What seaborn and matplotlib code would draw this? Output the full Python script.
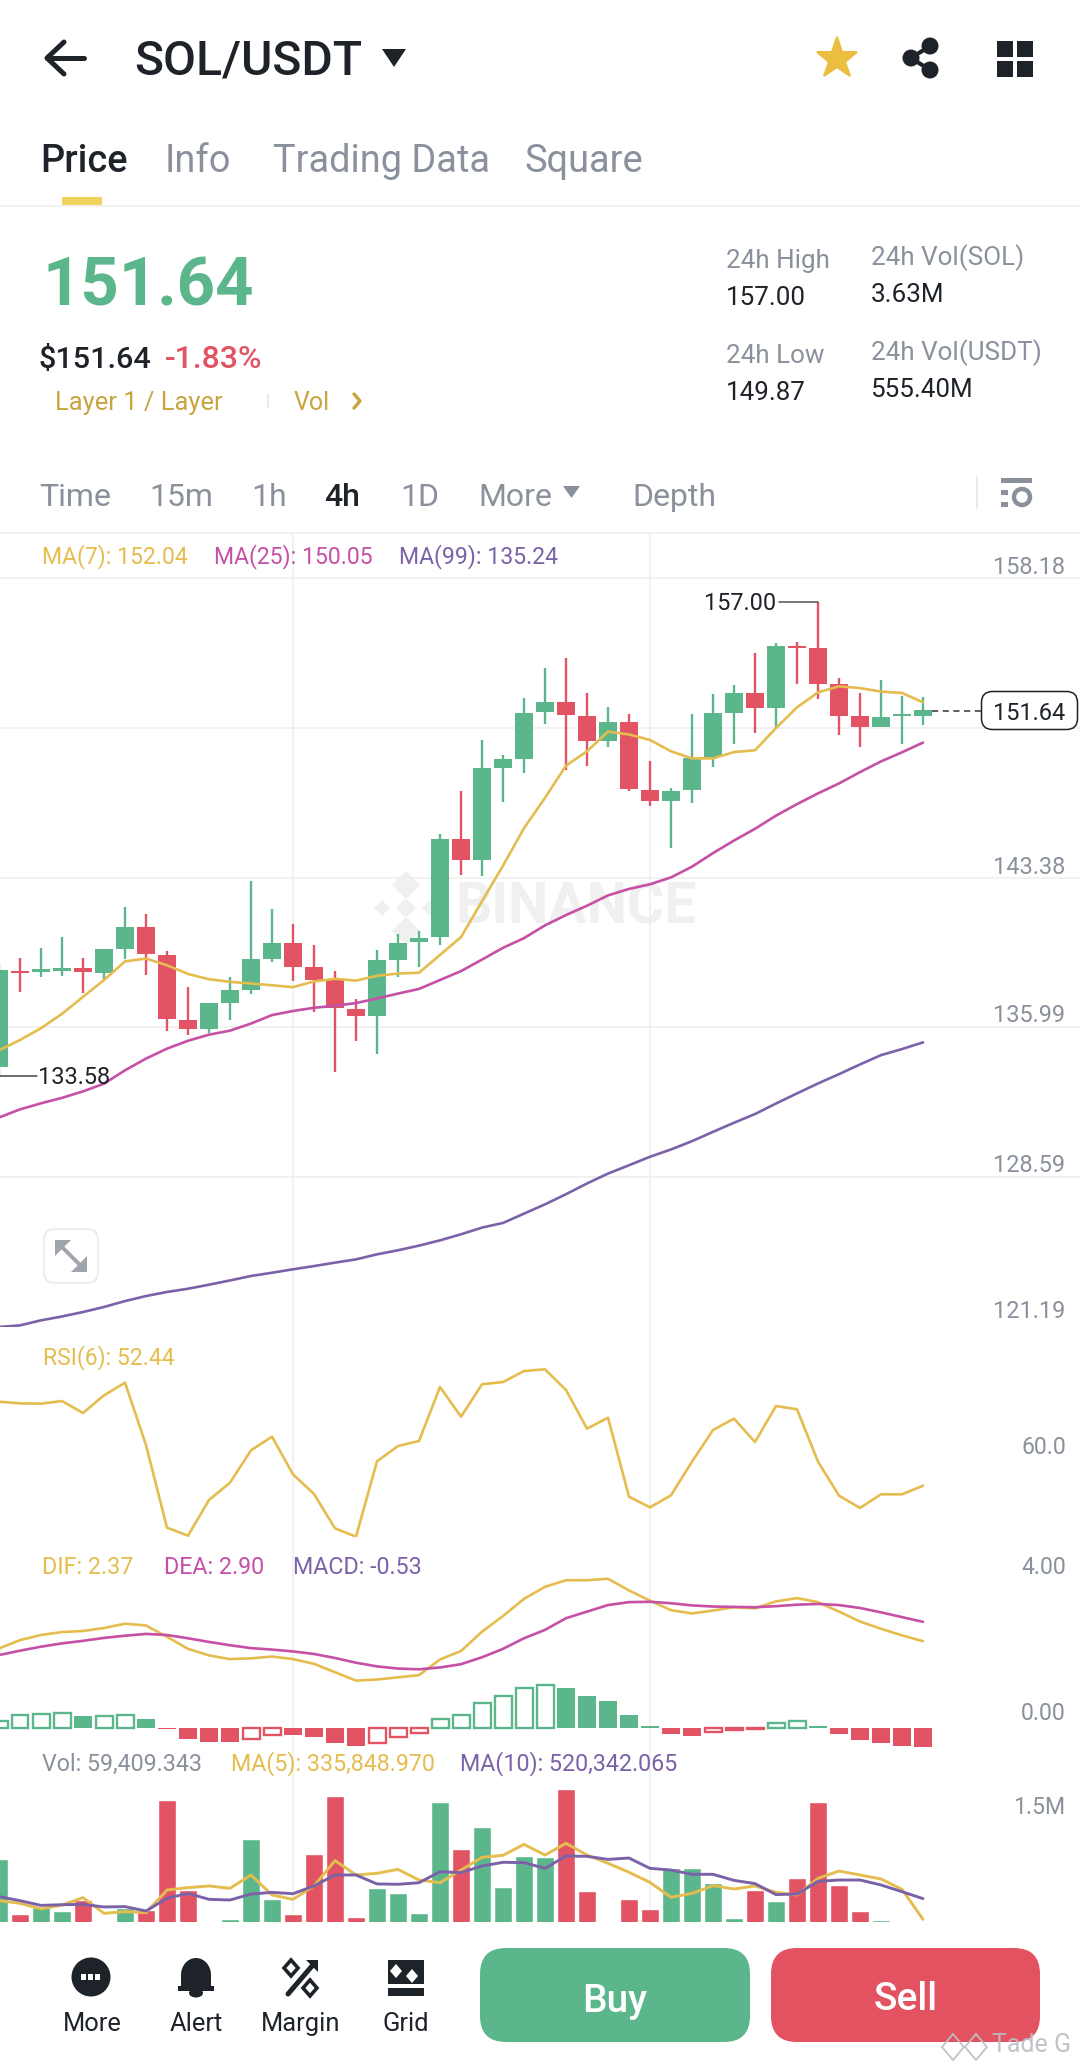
import numpy as np
import pandas as pd
import matplotlib
matplotlib.use("Agg")
import matplotlib.pyplot as plt
from matplotlib.patches import FancyBboxPatch, Circle, Polygon, Rectangle, Ellipse
import seaborn as sns

# =======================
# Data
# =======================
opens = [134.03, 138.78, 138.73, 138.75, 138.92, 138.68, 139.86, 140.92, 139.58, 136.35, 135.92, 137.18, 137.85, 139.38, 140.14,
         138.94, 138.31, 136.91, 136.54, 139.33, 140.18, 140.44, 145.29, 144.24, 148.79, 149.25, 151.56, 152.05, 151.38, 150.15,
         151.07, 147.73, 147.15, 147.69, 149.34, 151.52, 152.51, 151.74, 154.82, 154.72, 152.92, 151.35, 150.82, 151.37, 151.37]
closes = [138.80, 138.68, 138.87, 138.92, 138.71, 139.84, 140.92, 139.59, 136.38, 135.92, 137.18, 137.83, 139.36, 140.14, 138.97,
          138.31, 136.95, 136.52, 139.33, 140.16, 140.42, 145.29, 144.24, 148.77, 149.23, 151.52, 152.05, 151.42, 150.15, 151.07,
          147.77, 147.15, 147.66, 149.30, 151.51, 152.51, 151.75, 154.82, 154.72, 152.94, 151.38, 150.82, 151.33, 151.45, 151.64]
highs = [139.15, 139.43, 139.91, 140.46, 139.43, 139.86, 141.91, 141.59, 139.75, 137.99, 137.21, 138.45, 143.23, 141.82, 141.11,
         140.07, 138.76, 137.39, 139.82, 140.58, 140.74, 145.51, 147.68, 150.20, 149.44, 152.27, 153.71, 154.21, 152.48, 151.79,
         151.44, 149.14, 147.80, 151.44, 152.44, 152.88, 154.47, 154.98, 155.00, 157.00, 153.24, 152.50, 153.15, 152.35, 152.30]
lows = [133.58, 137.74, 138.45, 138.50, 137.67, 138.32, 139.38, 138.59, 135.80, 135.62, 135.68, 136.35, 137.65, 139.21, 138.27,
        136.73, 133.79, 135.32, 134.67, 138.45, 138.94, 140.03, 143.49, 143.44, 147.09, 148.56, 150.98, 148.70, 148.91, 149.83,
        147.64, 146.92, 144.85, 147.06, 148.82, 149.97, 150.54, 150.77, 152.94, 152.21, 150.41, 149.85, 150.82, 149.97, 150.94]
ma7 = [134.85, 135.36, 135.94, 136.65, 137.49, 138.32, 139.24, 139.38, 139.05, 138.62, 138.36, 138.23, 138.15, 138.06, 137.97,
       138.25, 138.38, 138.29, 138.53, 138.64, 138.68, 139.56, 140.44, 142.21, 143.97, 145.82, 147.32, 148.91, 149.62, 150.59,
       150.45, 150.18, 149.62, 149.27, 149.27, 149.58, 149.67, 150.77, 151.79, 152.53, 152.83, 152.74, 152.57, 152.50, 152.04]
ma25 = [131.53, 131.93, 132.23, 132.50, 132.82, 133.20, 133.86, 134.44, 134.93, 135.32, 135.62, 135.82, 136.17, 136.59, 136.79,
        136.95, 137.05, 137.18, 137.41, 137.65, 137.88, 138.32, 138.76, 139.33, 139.91, 140.39, 141.02, 141.53, 141.99, 142.50,
        142.82, 143.05, 143.39, 143.92, 144.59, 145.21, 145.79, 146.44, 147.01, 147.54, 148.03, 148.59, 149.12, 149.57, 150.05]
ma99 = [121.18, 121.26, 121.51, 121.70, 121.92, 122.17, 122.46, 122.71, 122.91, 123.07, 123.27, 123.48, 123.70, 123.86, 124.03,
        124.19, 124.36, 124.52, 124.77, 124.97, 125.20, 125.46, 125.76, 126.09, 126.32, 126.78, 127.24, 127.74, 128.27, 128.76,
        129.17, 129.59, 129.95, 130.36, 130.82, 131.27, 131.70, 132.22, 132.72, 133.21, 133.67, 134.15, 134.61, 134.91, 135.24]
rsi6 = [78.14, 77.63, 77.53, 78.35, 74.68, 80.08, 83.96, 64.89, 39.61, 37.16, 48.07, 53.37, 63.26, 67.44, 55.92,
        49.91, 39.41, 36.86, 59.90, 64.59, 66.12, 82.63, 73.56, 83.45, 84.16, 87.52, 88.03, 81.71, 69.89, 73.25,
        49.09, 45.83, 49.50, 59.80, 69.48, 72.95, 65.81, 76.82, 75.80, 59.80, 49.40, 45.63, 49.81, 49.81, 52.44]
dif = [2.17, 2.40, 2.54, 2.62, 2.65, 2.73, 2.85, 2.80, 2.49, 2.16, 1.98, 1.88, 1.90, 1.95, 1.88,
       1.75, 1.52, 1.29, 1.32, 1.38, 1.44, 1.87, 2.10, 2.63, 3.06, 3.53, 3.86, 4.04, 4.04, 4.08,
       3.76, 3.48, 3.22, 3.13, 3.21, 3.30, 3.27, 3.46, 3.55, 3.44, 3.18, 2.91, 2.71, 2.53, 2.37]
dea = [1.99, 2.11, 2.22, 2.31, 2.38, 2.46, 2.52, 2.57, 2.54, 2.45, 2.35, 2.26, 2.18, 2.14, 2.09,
       2.02, 1.91, 1.78, 1.68, 1.62, 1.60, 1.65, 1.74, 1.93, 2.16, 2.45, 2.68, 3.00, 3.18, 3.36,
       3.44, 3.45, 3.41, 3.35, 3.32, 3.31, 3.30, 3.33, 3.37, 3.39, 3.36, 3.28, 3.16, 3.03, 2.90]
macd = [0.18, 0.34, 0.38, 0.39, 0.31, 0.33, 0.36, 0.24, -0.04, -0.31, -0.38, -0.38, -0.32, -0.20, -0.20,
        -0.26, -0.41, -0.50, -0.41, -0.25, -0.15, 0.23, 0.36, 0.69, 0.88, 1.10, 1.17, 1.08, 0.87, 0.72,
        0.34, 0.06, -0.17, -0.23, -0.13, -0.07, -0.03, 0.13, 0.19, 0.06, -0.16, -0.34, -0.43, -0.50, -0.53]
vol = [873000, 380000, 449000, 410000, 508000, 250000, 434000, 419000, 1399000, 597000, 280000, 336000, 1049000, 517000, 386000,
       915000, 1438000, 354000, 615000, 570000, 392000, 1381000, 963000, 1159000, 624000, 900000, 891000, 1497000, 588000, 250000,
       517000, 428000, 793000, 793000, 659000, 348000, 597000, 499000, 704000, 1381000, 642000, 410000, 330000, 150000, 59409]
vol_ma5 = [502000, 478000, 428000, 463000, 529000, 389000, 404000, 395000, 597000, 618000, 633000, 612000, 731000, 553000, 514000,
           633000, 859000, 731000, 746000, 781000, 686000, 662000, 775000, 888000, 906000, 1004000, 909000, 1013000, 909000, 835000,
           755000, 665000, 532000, 567000, 636000, 606000, 633000, 576000, 553000, 701000, 766000, 731000, 695000, 603000, 335849]
vol_ma10 = [538000, 502000, 460000, 466000, 469000, 446000, 449000, 410000, 523000, 567000, 514000, 508000, 561000, 576000, 564000,
            633000, 731000, 731000, 651000, 648000, 662000, 760000, 752000, 811000, 844000, 841000, 790000, 900000, 897000, 870000,
            882000, 790000, 775000, 737000, 737000, 683000, 654000, 556000, 561000, 674000, 686000, 686000, 642000, 582000, 520342]
price_ticks = [158.18, 150.78, 143.38, 135.98, 128.58, 121.18]
price_labels = ["158.18", "143.38", "135.99", "128.59", "121.19"]
time_tabs = ["Time", "15m", "1h", "4h", "1D", "More", "Depth"]
top_tabs = ["Price", "Info", "Trading Data", "Square"]

# =======================
# Style
# =======================
W, H = 1080, 2069
GREEN = "#5BB78B"
RED = "#E25463"
YELLOW = "#E5BC4E"
PINK = "#C550A6"
PURPLE = "#7B62A8"
INK = "#1E2329"
GRAY = "#8A919C"
GRID = "#EFEFEF"

sns.set_theme(style="white")
plt.rcParams["font.family"] = ["Roboto", "DejaVu Sans"]

fig = plt.figure(figsize=(W / 100, H / 100), dpi=100, facecolor="white")

idx = np.arange(len(opens))
up = np.array(closes) >= np.array(opens)
colors = [GREEN if u else RED for u in up]


def px_text(ax, x, y, s, size, color=INK, weight="normal", ha="left", **kw):
    # va=center sits a touch high with this font, so nudge down
    return ax.text(x, y + 2, s, fontsize=size * 0.72, color=color, fontweight=weight, ha=ha, va="center", **kw)


def panel(top, bottom, ylim, yticks):
    ax = fig.add_axes([0, 1 - bottom / H, 1, (bottom - top) / H], zorder=2)
    ax.patch.set_visible(False)
    ax.set_xlim(1 / 21, 1081 / 21)
    ax.set_ylim(*ylim)
    ax.set_xticks([14, 31])
    ax.set_yticks(yticks)
    ax.tick_params(length=0, labelbottom=False, labelleft=False)
    ax.grid(True, color=GRID, lw=1.2)
    ax.set_axisbelow(True)
    sns.despine(ax=ax, left=True, bottom=True)
    return ax


def ma_line(ax, values, color, lw=1.9):
    sns.lineplot(x=idx, y=values, ax=ax, color=color, linewidth=lw, errorbar=None, zorder=5)
    ax.set_xlabel("")
    ax.set_ylabel("")


# background layer for the watermark
bg = fig.add_axes([0, 0, 1, 1], zorder=1)
bg.set_xlim(0, W)
bg.set_ylim(H, 0)
bg.axis("off")
wm = "#F0F0F0"
for cx, cy, r in [(406, 885, 14), (406, 931, 14), (382, 908, 8), (430, 908, 8), (406, 908, 10)]:
    bg.add_patch(Polygon([(cx - r, cy), (cx, cy - r), (cx + r, cy), (cx, cy + r)], color=wm, lw=0))
px_text(bg, 455, 906, "BINANCE", 57, wm, "bold")

# =======================
# Price panel
# =======================
price_top = 158.18 + 45 / 20.243
ax_p = panel(533, 1327, (121.18, price_top), [158.18, 150.78, 143.38, 135.98, 128.58])
ax_p.vlines(idx, lows, highs, colors=colors, lw=1.7, zorder=3)
bodies = np.abs(np.array(closes) - np.array(opens))
ax_p.bar(idx, bodies, bottom=np.minimum(opens, closes), width=18.2 / 21, color=colors, lw=0, zorder=4)
ma_line(ax_p, ma7, YELLOW)
ma_line(ax_p, ma25, PINK)
ma_line(ax_p, ma99, PURPLE)

# =======================
# RSI panel
# =======================
ax_r = panel(1327, 1536.7, (60 - 75.7 / 3.27, 60 + 134 / 3.27), [])
ma_line(ax_r, rsi6, YELLOW)

# =======================
# MACD panel
# =======================
ax_m = panel(1536.7, 1746.7, (-19 / 36.5, 191 / 36.5), [])
prev = np.r_[-9, macd[:-1]]
hollow = np.array(macd) > prev
macd_colors = [GREEN if v >= 0 else RED for v in macd]
ax_m.bar(idx[~hollow], np.array(macd)[~hollow], width=18.2 / 21,
         color=np.array(macd_colors)[~hollow], lw=0, zorder=3)
ax_m.bar(idx[hollow], np.array(macd)[hollow], width=17 / 21, facecolor="white",
         edgecolor=np.array(macd_colors)[hollow], lw=1.7, zorder=3)
ma_line(ax_m, dif, YELLOW)
ma_line(ax_m, dea, PINK)

# =======================
# Volume panel
# =======================
ax_v = panel(1746.7, 1922, (35 * 8912, 210.3 * 8912), [])
vol_df = pd.DataFrame({"i": idx, "vol": vol, "side": ["up" if u else "down" for u in up]})
sns.barplot(data=vol_df, x="i", y="vol", hue="side", palette={"up": GREEN, "down": RED}, native_scale=True,
            dodge=False, legend=False, width=18.2 / 21, saturation=1, ax=ax_v, zorder=3)
ma_line(ax_v, vol_ma5, YELLOW, 2.1)
ma_line(ax_v, vol_ma10, PURPLE, 2.1)
ax_v.set_xlim(1 / 21, 1081 / 21)
ax_v.set_ylim(35 * 8912, 210.3 * 8912)

# =======================
# Text and icons, in screen pixels
# =======================
ui = fig.add_axes([0, 0, 1, 1], zorder=3)
ui.patch.set_visible(False)
ui.set_xlim(0, W)
ui.set_ylim(H, 0)
ui.axis("off")

# header
ui.plot([47, 84], [58, 58], color=INK, lw=3.6, solid_capstyle="round")
ui.plot([64, 47, 64], [42, 58, 74], color=INK, lw=3.6, solid_capstyle="round", solid_joinstyle="round")
px_text(ui, 134, 59, "SOL/USDT", 48, INK, "medium")
ui.add_patch(Polygon([(382, 49), (406, 49), (394, 67)], color=INK, lw=0))
ui.plot(837, 59, marker="*", ms=31, color="#EBBE3F", mec="#EBBE3F", mew=1.5)
for a, b in [((911, 58), (930, 46)), ((911, 58), (930, 70))]:
    ui.plot(*zip(a, b), color=INK, lw=3)
for c in [(911, 58), (930, 46), (930, 70)]:
    ui.add_patch(Circle(c, 8.5, color=INK, lw=0))
for x0, y0 in [(997, 41), (1017, 41), (997, 61), (1017, 61)]:
    ui.add_patch(Rectangle((x0, y0), 15.5, 15.5, color=INK, lw=0))

# tabs
for s, x, c in zip(top_tabs, [40, 165, 273, 525], [INK, GRAY, GRAY, GRAY]):
    px_text(ui, x, 159, s, 38, c, "medium" if s == "Price" else "normal")
ui.add_patch(Rectangle((62, 197), 40, 8, color="#F0D35D", lw=0))
ui.plot([0, W], [205.5, 205.5], color=GRID, lw=1.2)

# quote block
px_text(ui, 42, 286, "151.64", 67, GREEN, "bold")
px_text(ui, 39, 358, "$151.64", 30.5, INK, "medium")
px_text(ui, 165, 358, "-1.83%", 32, RED, "medium")
px_text(ui, 55, 401, "Layer 1 / Layer", 25.5, "#C9A53F")
ui.plot([268, 268], [394, 408], color="#E8E8E8", lw=1.2)
px_text(ui, 294, 401, "Vol", 25, "#C9A53F")
ui.plot([354, 360, 354], [394, 401, 408], color="#C9A53F", lw=2.4)

px_text(ui, 726, 259, "24h High", 26, GRAY)
px_text(ui, 726, 296, "157.00", 26, INK)
px_text(ui, 726, 354, "24h Low", 26, GRAY)
px_text(ui, 726, 391, "149.87", 26, INK)
px_text(ui, 871, 256, "24h Vol(SOL)", 26, GRAY)
px_text(ui, 871, 293, "3.63M", 26, INK)
px_text(ui, 871, 351, "24h Vol(USDT)", 26, GRAY)
px_text(ui, 870, 388, "555.40M", 26, INK)

# interval row
for s, x in zip(time_tabs, [39, 149, 251, 324, 400, 478, 632]):
    px_text(ui, x, 495, s, 32, INK if s == "4h" else GRAY, "medium" if s == "4h" else "normal")
ui.add_patch(Polygon([(563, 486), (580, 486), (571.5, 498)], color=GRAY, lw=0))
ui.plot([977, 977], [477, 508], color="#E6E6E6", lw=1.2)
ui.add_patch(Rectangle((1001, 478), 31, 5, color=GRAY, lw=0))
for y0 in [490, 502]:
    ui.add_patch(Rectangle((1001, y0), 7, 5, color=GRAY, lw=0))
ui.add_patch(Circle((1022, 497), 8, facecolor="white", edgecolor=GRAY, lw=3.2))
ui.plot([0, W], [533, 533], color=GRID, lw=1.2)

# legends
for s, x, c in [("MA(7): 152.04", 42, YELLOW), ("MA(25): 150.05", 214, PINK), ("MA(99): 135.24", 399, PURPLE)]:
    px_text(ui, x, 555, s, 23, c)
px_text(ui, 43, 1356, "RSI(6): 52.44", 23, YELLOW)
for s, x, c in [("DIF: 2.37", 42, YELLOW), ("DEA: 2.90", 164, PINK), ("MACD: -0.53", 293, PURPLE)]:
    px_text(ui, x, 1566, s, 23.3, c)
for s, x, c in [("Vol: 59,409.343", 42, GRAY), ("MA(5): 335,848.970", 231, YELLOW), ("MA(10): 520,342.065", 460, PURPLE)]:
    px_text(ui, x, 1762, s, 23.3, c)

# right-hand scale
for s, y in zip(price_labels, [565, 865, 1014, 1164, 1310]):
    px_text(ui, 1065, y, s, 23.5, GRAY, ha="right")
px_text(ui, 1066, 1445, "60.0", 23, GRAY, ha="right")
px_text(ui, 1066, 1566, "4.00", 23, GRAY, ha="right")
px_text(ui, 1066, 1712, "0.00", 23, GRAY, ha="right")
px_text(ui, 1065, 1805, "1.5M", 23, GRAY, ha="right")

# price callouts
px_text(ui, 776, 601, "157.00", 23.5, INK, ha="right")
ui.plot([779, 818], [602, 602], color="#555555", lw=1.1)
px_text(ui, 38, 1075, "133.58", 23.5, INK)
ui.plot([0, 37], [1076, 1076], color="#444444", lw=1.1)
ui.plot([932, 981], [711, 711], color="#333333", lw=1.1, ls=(0, (4, 3)))
ui.add_patch(FancyBboxPatch((981.5, 691.5), 96, 38, boxstyle="round,pad=0,rounding_size=11",
                            facecolor="white", edgecolor=INK, lw=1.1, zorder=4))
px_text(ui, 1029, 711, "151.64", 23.5, INK, ha="center", zorder=5)

# expand button
ui.add_patch(FancyBboxPatch((44, 1229), 54, 54, boxstyle="round,pad=0,rounding_size=11",
                            facecolor="white", edgecolor="#EDEDED", lw=1.5, zorder=4))
ui.add_patch(Polygon([(55, 1240), (71, 1240), (55, 1256)], color="#A0A4AB", lw=0, zorder=5))
ui.add_patch(Polygon([(87, 1272), (71, 1272), (87, 1256)], color="#A0A4AB", lw=0, zorder=5))
ui.plot([60, 82], [1245, 1267], color="#A0A4AB", lw=2.8, zorder=5)

# bottom toolbar
ui.add_patch(Circle((91, 1977), 19.5, color=INK, lw=0))
for x0 in [81, 88, 95]:
    ui.add_patch(Rectangle((x0, 1974), 5, 6, color="white", lw=0))
ui.add_patch(Ellipse((196, 1975), 30, 34, color=INK, lw=0))
ui.add_patch(Rectangle((181, 1975), 30, 14, color=INK, lw=0))
ui.add_patch(Rectangle((178, 1986), 36, 5, color=INK, lw=0))
ui.add_patch(Ellipse((196, 1993), 14, 9, color=INK, lw=0))
ui.plot([288, 312], [1994, 1966], color=INK, lw=3.6)
ui.add_patch(Polygon([(306, 1960), (318, 1960), (318, 1972)], color=INK, lw=0))
for cx, cy in [(291, 1968), (310, 1988)]:
    ui.add_patch(Polygon([(cx - 7, cy), (cx, cy - 8), (cx + 7, cy), (cx, cy + 8)], facecolor="white", edgecolor=INK, lw=2.6))
ui.add_patch(Rectangle((388, 1960), 36, 24, color=INK, lw=0))
ui.add_patch(Rectangle((388, 1988), 36, 8, color=INK, lw=0))
ui.add_patch(Polygon([(396, 1964), (402, 1971), (396, 1978), (390, 1971)], color="white", lw=0))
ui.add_patch(Polygon([(412, 1969), (418, 1976), (412, 1983), (406, 1976)], color="white", lw=0))
for s, x in [("More", 92), ("Alert", 196), ("Margin", 301), ("Grid", 406)]:
    px_text(ui, x, 2022, s, 25.5, INK, ha="center")

ui.add_patch(FancyBboxPatch((480, 1948), 270, 94, boxstyle="round,pad=0,rounding_size=26", color=GREEN, lw=0))
ui.add_patch(FancyBboxPatch((771, 1948), 269, 94, boxstyle="round,pad=0,rounding_size=26", color="#E35261", lw=0))
px_text(ui, 615, 1999, "Buy", 39, "white", "medium", ha="center")
px_text(ui, 906, 1998, "Sell", 39, "white", "medium", ha="center")

# corner watermark
px_text(ui, 992, 2043, "Tade G", 25, "#B9BDC3", ha="left", alpha=0.9)
for cx in [953, 976]:
    ui.add_patch(Polygon([(cx - 11, 2047), (cx, 2034), (cx + 11, 2047), (cx, 2060)], facecolor="none", edgecolor="#BDC1C7", lw=1.2))

fig.savefig("out.png", dpi=100)
